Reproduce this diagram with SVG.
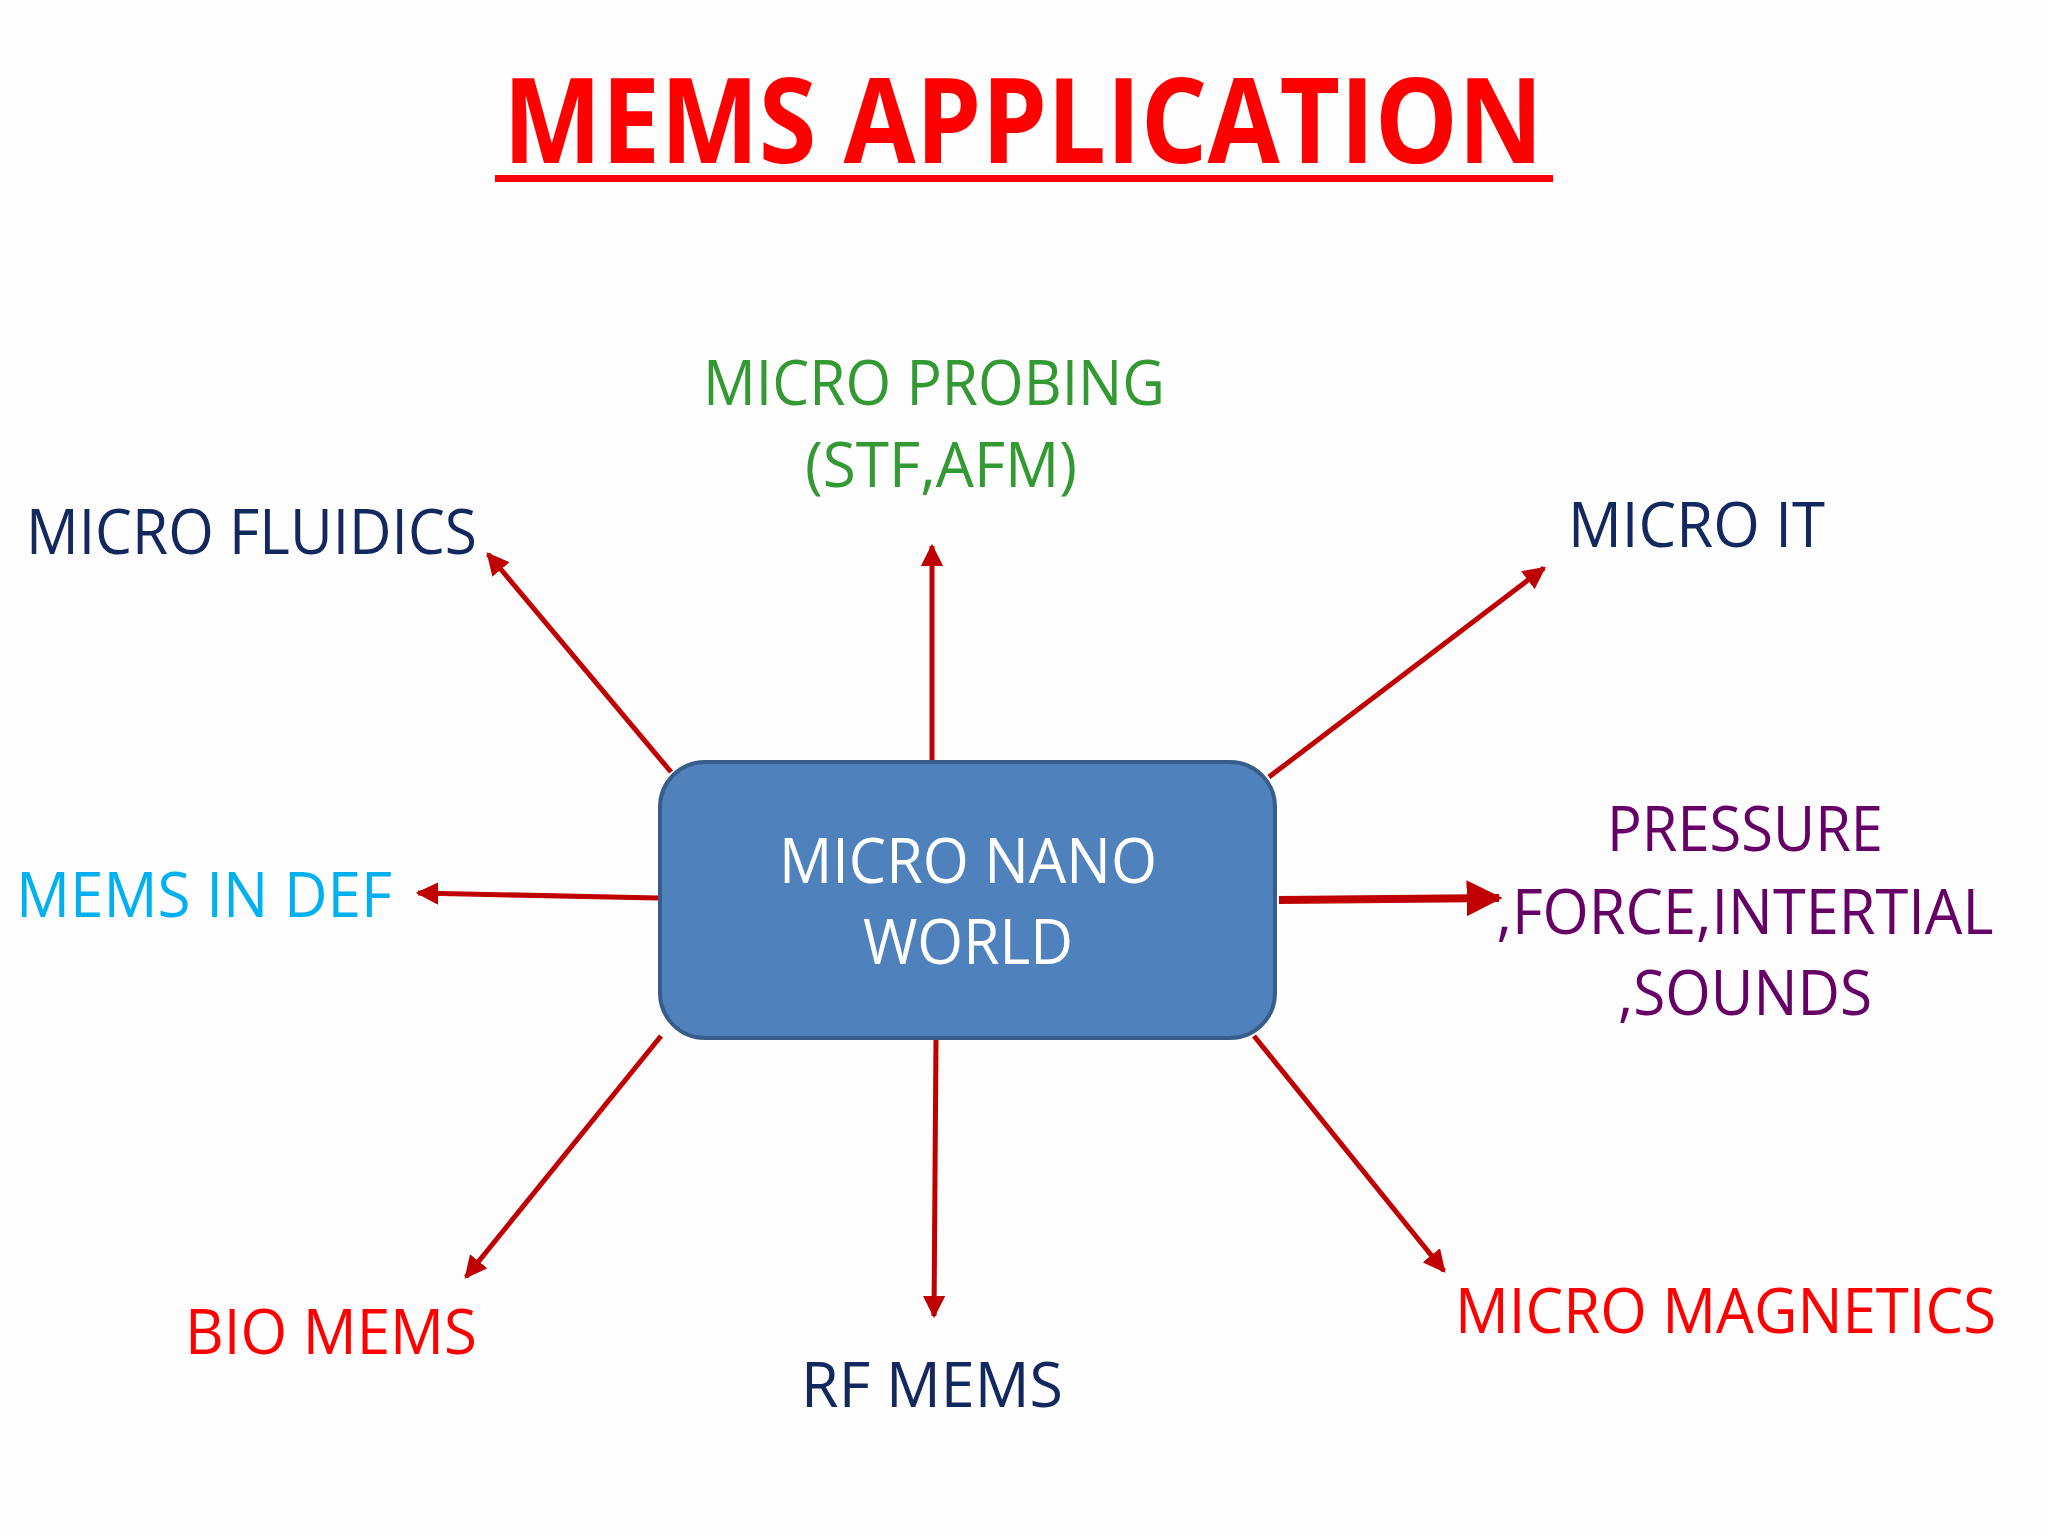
<svg xmlns="http://www.w3.org/2000/svg" width="2048" height="1536" viewBox="0 0 2048 1536">
<defs>
<style>
text{font-family:"Open Sans","Liberation Sans",sans-serif;font-size:62px}
.c{stroke:#C00000;stroke-width:5;fill:none;marker-end:url(#ah)}
</style>
<marker id="ah" viewBox="0 0 10 10" refX="9" refY="5" markerWidth="4.5" markerHeight="4.5" orient="auto" markerUnits="strokeWidth"><path d="M0,0 L10,5 L0,10 z" fill="#C00000"/></marker>
</defs>
<rect width="2048" height="1536" fill="#fdfdfd"/>
<g id="title">
<text x="1023" y="163" text-anchor="middle" fill="#FF0000" style="font-size:118px;font-weight:bold" textLength="1040" lengthAdjust="spacingAndGlyphs">MEMS APPLICATION</text>
<rect x="495" y="175" width="1058" height="7" fill="#FF0000"/>
</g>
<g id="connectors">
<line class="c" x1="671" y1="772" x2="488" y2="554"/>
<line class="c" x1="932" y1="761" x2="932" y2="546"/>
<line class="c" x1="1269" y1="777" x2="1544" y2="568"/>
<line class="c" x1="658" y1="898" x2="418" y2="893"/>
<line class="c" x1="1279" y1="900" x2="1499" y2="898" style="stroke-width:8"/>
<line class="c" x1="661" y1="1036" x2="466" y2="1277"/>
<line class="c" x1="936" y1="1038" x2="934" y2="1316"/>
<line class="c" x1="1254" y1="1036" x2="1444" y2="1271"/>
</g>
<g id="center">
<rect x="660" y="762" width="615" height="276" rx="45" fill="#4F81BD" stroke="#385D8A" stroke-width="4"/>
<text x="968" y="883" text-anchor="middle" fill="#fff" textLength="378" lengthAdjust="spacingAndGlyphs">MICRO NANO</text>
<text x="968" y="964" text-anchor="middle" fill="#fff" textLength="210" lengthAdjust="spacingAndGlyphs">WORLD</text>
</g>
<g id="probing" fill="#339933">
<text x="934" y="405" text-anchor="middle" fill="#339933" textLength="462" lengthAdjust="spacingAndGlyphs">MICRO PROBING</text>
<text x="941" y="487" text-anchor="middle" fill="#339933" textLength="272" lengthAdjust="spacingAndGlyphs">(STF,AFM)</text>
</g>
<g id="fluidics"><text x="26" y="554" fill="#12285E" textLength="451" lengthAdjust="spacingAndGlyphs">MICRO FLUIDICS</text></g>
<g id="microit"><text x="1568" y="547" fill="#12285E" textLength="257" lengthAdjust="spacingAndGlyphs">MICRO IT</text></g>
<g id="def"><text x="16" y="917" fill="#00B0F0" textLength="376" lengthAdjust="spacingAndGlyphs">MEMS IN DEF</text></g>
<g id="pressure">
<text x="1745" y="851" text-anchor="middle" fill="#660066" textLength="276" lengthAdjust="spacingAndGlyphs">PRESSURE</text>
<text x="1745" y="934" text-anchor="middle" fill="#660066" textLength="497" lengthAdjust="spacingAndGlyphs">,FORCE,INTERTIAL</text>
<text x="1745" y="1015" text-anchor="middle" fill="#660066" textLength="254" lengthAdjust="spacingAndGlyphs">,SOUNDS</text>
</g>
<g id="bio"><text x="185" y="1354" fill="#FF0000" textLength="292" lengthAdjust="spacingAndGlyphs">BIO MEMS</text></g>
<g id="rf"><text x="932" y="1407" text-anchor="middle" fill="#12285E" textLength="262" lengthAdjust="spacingAndGlyphs">RF MEMS</text></g>
<g id="mag"><text x="1455" y="1333" fill="#FF0000" textLength="541" lengthAdjust="spacingAndGlyphs">MICRO MAGNETICS</text></g>
</svg>
